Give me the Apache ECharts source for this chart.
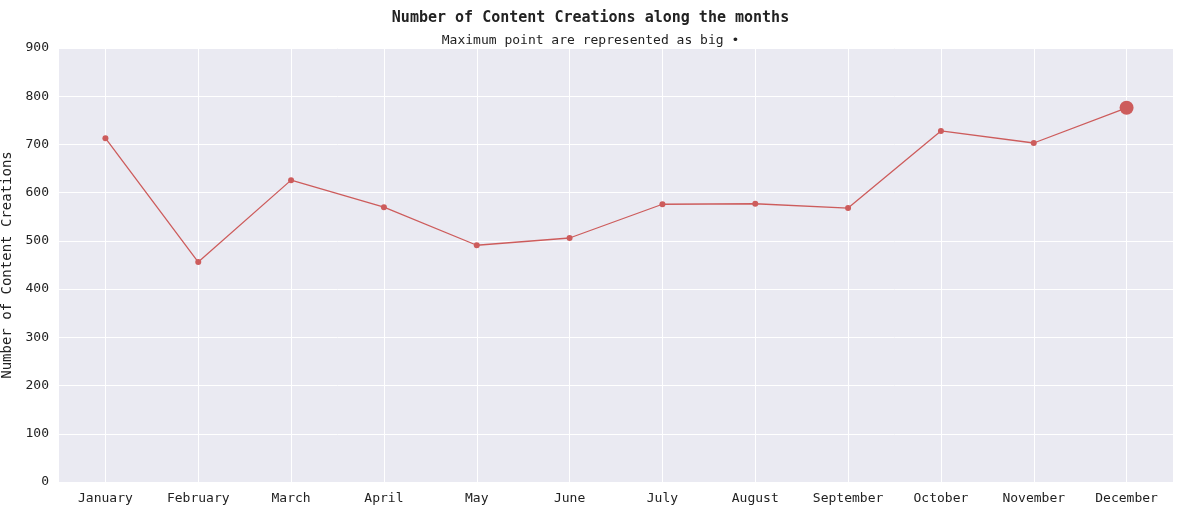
<!DOCTYPE html>
<html><head><meta charset="utf-8">
<script src="https://cdn.jsdelivr.net/npm/echarts@6/dist/echarts.min.js"></script>
<style>html,body{margin:0;padding:0;background:#fff}#c{width:1181px;height:512px}</style>
</head><body><div id="c"></div>
<script>
const months = ["January","February","March","April","May","June","July","August","September","October","November","December"];
const counts = [713,456,626,570,491,506,576,577,568,728,703,776];
const yTicks = [0,100,200,300,400,500,600,700,800,900];
const FONT = "DejaVu Sans Mono";
const maxVal = Math.max(...counts);
const data = counts.map(v => v === maxVal ? {value: v, symbolSize: 14} : v);
const chart = echarts.init(document.getElementById('c'));
chart.setOption({
  animation: false,
  title: [
    {text: "Number of Content Creations along the months", left: 'center', top: 6,
     textStyle: {fontFamily: FONT, fontSize: 15, fontWeight: 'bold', color: '#222'}},
    {text: "Maximum point are represented as big •", left: 'center', top: 29,
     textStyle: {fontFamily: FONT, fontSize: 13, fontWeight: 'normal', color: '#222'}}
  ],
  grid: {left: 59, right: 8, top: 48, bottom: 30, show: true, backgroundColor: '#EAEAF2', borderWidth: 0, containLabel: false, outerBoundsMode: 'none'},
  xAxis: {type: 'category', data: months, boundaryGap: true,
    axisLine: {show: false}, axisTick: {show: false}, splitLine: {show: false},
    axisLabel: {fontFamily: FONT, fontSize: 13, color: '#222', margin: 10}},
  yAxis: {type: 'value', min: yTicks[0], max: yTicks[yTicks.length-1], interval: 100,
    name: "Number of Content Creations", nameLocation: 'middle', nameGap: 38,
    nameTextStyle: {fontFamily: FONT, fontSize: 14, color: '#222'},
    axisLine: {show: false}, axisTick: {show: false},
    axisLabel: {fontFamily: FONT, fontSize: 13, color: '#222', margin: 10},
    splitLine: {lineStyle: {color: '#fff', width: 1}}},
  series: [
    {type: 'line', data: [], z: 1, silent: true,
     markLine: {silent: true, symbol: 'none', label: {show: false},
       lineStyle: {color: '#fff', type: 'solid', width: 1},
       data: months.map(m => ({xAxis: m}))}},
    {type: 'line', data: data, z: 5, symbol: 'circle', symbolSize: 6,
     lineStyle: {color: '#CD5C5C', width: 1.3},
     itemStyle: {color: '#CD5C5C'}}
  ]
});
</script></body></html>
